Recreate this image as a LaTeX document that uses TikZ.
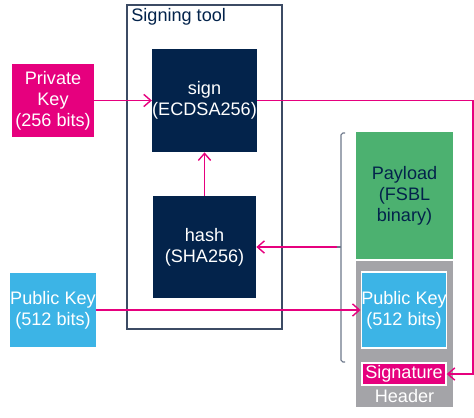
\documentclass[tikz,border=0pt]{standalone}
\usepackage{fontspec}
\setmainfont{Liberation Sans}
\usetikzlibrary{arrows.meta}
\definecolor{stnavy}{HTML}{03234B}
\definecolor{stpink}{HTML}{E6007E}
\definecolor{stblue}{HTML}{3CB4E6}
\definecolor{stgreen}{HTML}{4CB170}
\definecolor{stgray}{HTML}{A4A4A8}
\definecolor{stslate}{HTML}{3C4B64}

\begin{document}
\begin{tikzpicture}[
  txt/.style={font=\fontsize{10.3}{12}\selectfont, align=center, inner sep=0pt},
  block/.style={txt, fill=stnavy, text=white, minimum width=2.06cm, minimum height=2.06cm},
  keybox/.style={txt, text=white, minimum width=1.64cm, minimum height=1.47cm},
  link/.style={stpink, line width=0.8pt, -{Straight Barb[length=4pt,width=7pt]}}
]
\useasboundingbox (0,0) rectangle (9.48,8.34);

    % Signing tool frame
    \draw[stslate, line width=0.6pt] (2.54,1.76) rectangle (5.64,8.24);
    \node[txt, anchor=base west, text=stnavy] (tool) at (2.62,7.90) {Signing tool};

    \node[block] (sign) at (4.09,6.33) {sign\\(ECDSA256)};
    \node[block, minimum height=2.04cm] (hash) at (4.09,3.40) {hash\\(SHA256)};

    % keys on the left
    \node[keybox, fill=stpink, minimum height=1.46cm] (priv) at (1.06,6.33) {Private\\Key\\(256 bits)};
    \node[keybox, fill=stblue] (pub) at (1.06,2.14) {Public Key\\(512 bits)};

    % image: payload + header
    \node[txt, fill=stgreen, text=stnavy, minimum width=1.94cm, minimum height=2.54cm] (payload) at (8.09,4.43) {Payload\\(FSBL\\binary)};
    \node[fill=stgray, minimum width=1.94cm, minimum height=2.92cm, inner sep=0pt] (header) at (8.09,1.66) {};
    \node[keybox, fill=stblue, draw=white, line width=0.8pt, minimum width=1.68cm, minimum height=1.52cm] (pubimg) at (8.08,2.14) {Public Key\\(512 bits)};
    \node[txt, fill=stpink, draw=white, text=white, line width=0.8pt, minimum width=1.68cm, minimum height=0.44cm] (sig) at (8.08,0.86) {Signature};
    \node[txt, text=white, anchor=base] (hdr) at (8.09,0.30) {Header};

    % bracket round payload and public key
    \draw[stslate!75, line width=0.6pt, rounded corners=1pt] (6.90,5.68) -- (6.82,5.68) -- (6.82,1.10) -- (6.90,1.10);
    \draw[stslate!75, line width=0.6pt] (6.82,3.40) -- (6.74,3.40) coordinate (brace);
    \coordinate (corner) at (9.46,6.33);

    \draw[link] (priv) -- (sign);
    \draw[link] (hash) -- (sign);
    \draw[link] (brace) -- (hash.east);
    \draw[link] (pub) -- (pubimg);
    \draw[link] (sign.east) -- (corner) |- (sig.east);

\end{tikzpicture}
\end{document}
